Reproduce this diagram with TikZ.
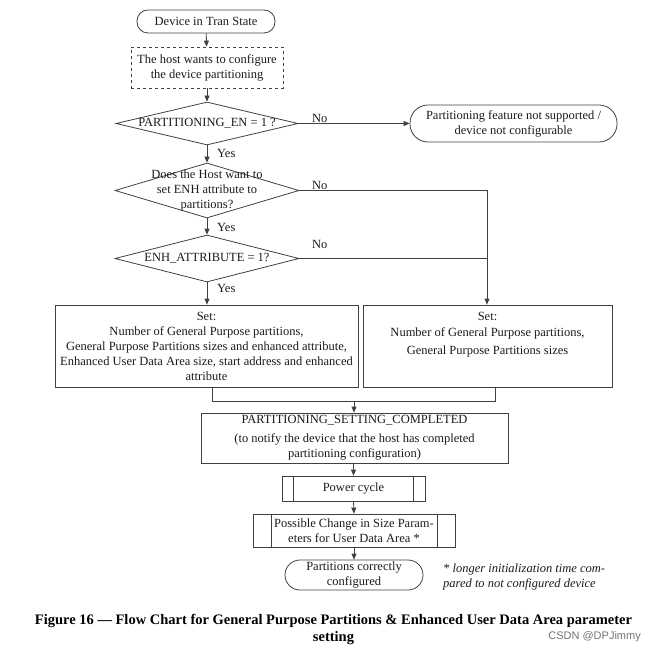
\documentclass[tikz,border=0pt]{standalone}
\usepackage{fontspec}
\setmainfont{Liberation Serif}
\setsansfont{Liberation Sans}
\usetikzlibrary{arrows.meta,shapes.geometric}
\newcommand\myfs{\fontsize{12.5}{15}\selectfont}
\definecolor{lc}{HTML}{404040}
\definecolor{tc}{HTML}{1A1A1A}
\begin{document}
\begin{tikzpicture}[x=1pt,y=-1pt,
  ln/.style={draw=lc, line width=0.8pt},
  arr/.style={ln, -{Triangle[length=6pt,width=5pt]}},
  box/.style={draw=lc, line width=0.8pt, rectangle, inner sep=0pt, align=center, font=\myfs, text=tc},
  dia/.style={draw=lc, line width=0.8pt, shape=diamond, inner sep=0pt},
  lab/.style={font=\myfs, text=tc, inner sep=0pt, anchor=west}
]
\useasboundingbox (0,0) rectangle (650,652);

% nodes
\node[box, rounded corners=11pt, minimum width=138pt, minimum height=23pt] (dev) at (206,21.5) {Device in Tran State};
\node[box, dashed, minimum width=152pt, minimum height=41pt] (host) at (207,67.5) {The host wants to configure\\the device partitioning};
\node[dia, minimum width=182pt, minimum height=43pt,
      label={[font=\myfs,text=tc,align=center]center:PARTITIONING\_EN = 1 ?}] (d1) at (207,123.5) {};
\node[box, rounded corners=18pt, minimum width=207pt, minimum height=37pt] (nsup) at (513.5,123.5) {Partitioning feature not supported /\\device not configurable};
\node[dia, minimum width=184pt, minimum height=55pt,
      label={[font=\myfs,text=tc,align=center]center:Does the Host want to\\set ENH attribute to\\partitions?}] (d2) at (207,190.5) {};
\node[dia, minimum width=184pt, minimum height=47pt,
      label={[font=\myfs,text=tc,align=center]center:ENH\_ATTRIBUTE = 1?}] (d3) at (207,258.5) {};
\node[box, minimum width=303pt, minimum height=82pt] (lbox) at (206.5,346)
  {Set:\\Number of General Purpose partitions,\\General Purpose Partitions sizes and enhanced attribute,\\Enhanced User Data Area size, start address and enhanced\\attribute};
\node[box, minimum width=249pt, minimum height=82pt] (rbox) at (487.5,346)
  {Set:\\[1pt]Number of General Purpose partitions,\\[3pt]General Purpose Partitions sizes\\[10pt]};
\node[box, minimum width=307pt, minimum height=50pt] (psc) at (354.5,438)
  {PARTITIONING\_SETTING\_COMPLETED\\[4pt](to notify the device that the host has completed\\partitioning configuration)};
\node[box, minimum width=143pt, minimum height=25pt] (pc) at (353.5,488.5) {Power cycle};
\node[box, minimum width=202pt, minimum height=33pt] (chg) at (354,530.5) {Possible Change in Size Param-\\eters for User Data Area *};
\node[box, rounded corners=15pt, minimum width=138pt, minimum height=30pt] (done) at (354,575) {Partitions correctly\\configured};

% inner lines of predefined-process boxes
\draw[ln] ([xshift=12pt]pc.north west) -- ([xshift=12pt]pc.south west);
\draw[ln] ([xshift=-12pt]pc.north east) -- ([xshift=-12pt]pc.south east);
\draw[ln] ([xshift=19pt]chg.north west) -- ([xshift=19pt]chg.south west);
\draw[ln] ([xshift=-18pt]chg.north east) -- ([xshift=-18pt]chg.south east);

% coordinates
\coordinate (c2) at (487,190.5);
\coordinate (c3) at (487,258.5);
\coordinate (jl) at (212,401);
\coordinate (jr) at (495,401);
\coordinate (jm) at (354,401);

% connectors
\draw[arr] (dev) -- (host);
\draw[arr] (host) -- (d1);
\draw[arr] (d1.east) -- (nsup.west);
\draw[arr] (d1.south) -- (d2.north);
\draw[arr] (d2.south) -- (d3.north);
\draw[arr] (d3.south) -- (d3.south |- lbox.north);
\draw[ln] (d2.east) -- (c2);
\draw[arr] (c2) -- (c2 |- rbox.north);
\draw[ln] (d3.east) -- (c3);
\draw[ln] (jl |- lbox.south) -- (jl) -- (jr) -- (jr |- rbox.south);
\draw[arr] (jm) -- (jm |- psc.north);
\draw[arr] (psc.south -| pc.north) -- (pc.north);
\draw[arr] (pc.south) -- (chg.north);
\draw[arr] (chg.south) -- (done.north);

% branch labels
\node[lab] (no1) at (312,118) {No};
\node[lab] (yes1) at (217,153.5) {Yes};
\node[lab] (no2) at (312,185) {No};
\node[lab] (yes2) at (217,227.5) {Yes};
\node[lab] (no3) at (312,244) {No};
\node[lab] (yes3) at (217,288) {Yes};

% note
\node[font=\myfs\itshape, text=tc, align=left, anchor=west, inner sep=0pt] (note) at (443,576.5)
  {* longer initialization time com-\\pared to not configured device};

% caption
\node[font=\fontsize{14.5}{17}\selectfont\bfseries, text=black, align=center, inner sep=0pt] (cap) at (333.5,629.5)
  {Figure 16 --- Flow Chart for General Purpose Partitions \& Enhanced User Data Area parameter\\setting};
\node[font=\sffamily\fontsize{11}{13}\selectfont, text=black!55, anchor=east, inner sep=0pt] (wm) at (641,637) {CSDN @DPJimmy};
\end{tikzpicture}
\end{document}
